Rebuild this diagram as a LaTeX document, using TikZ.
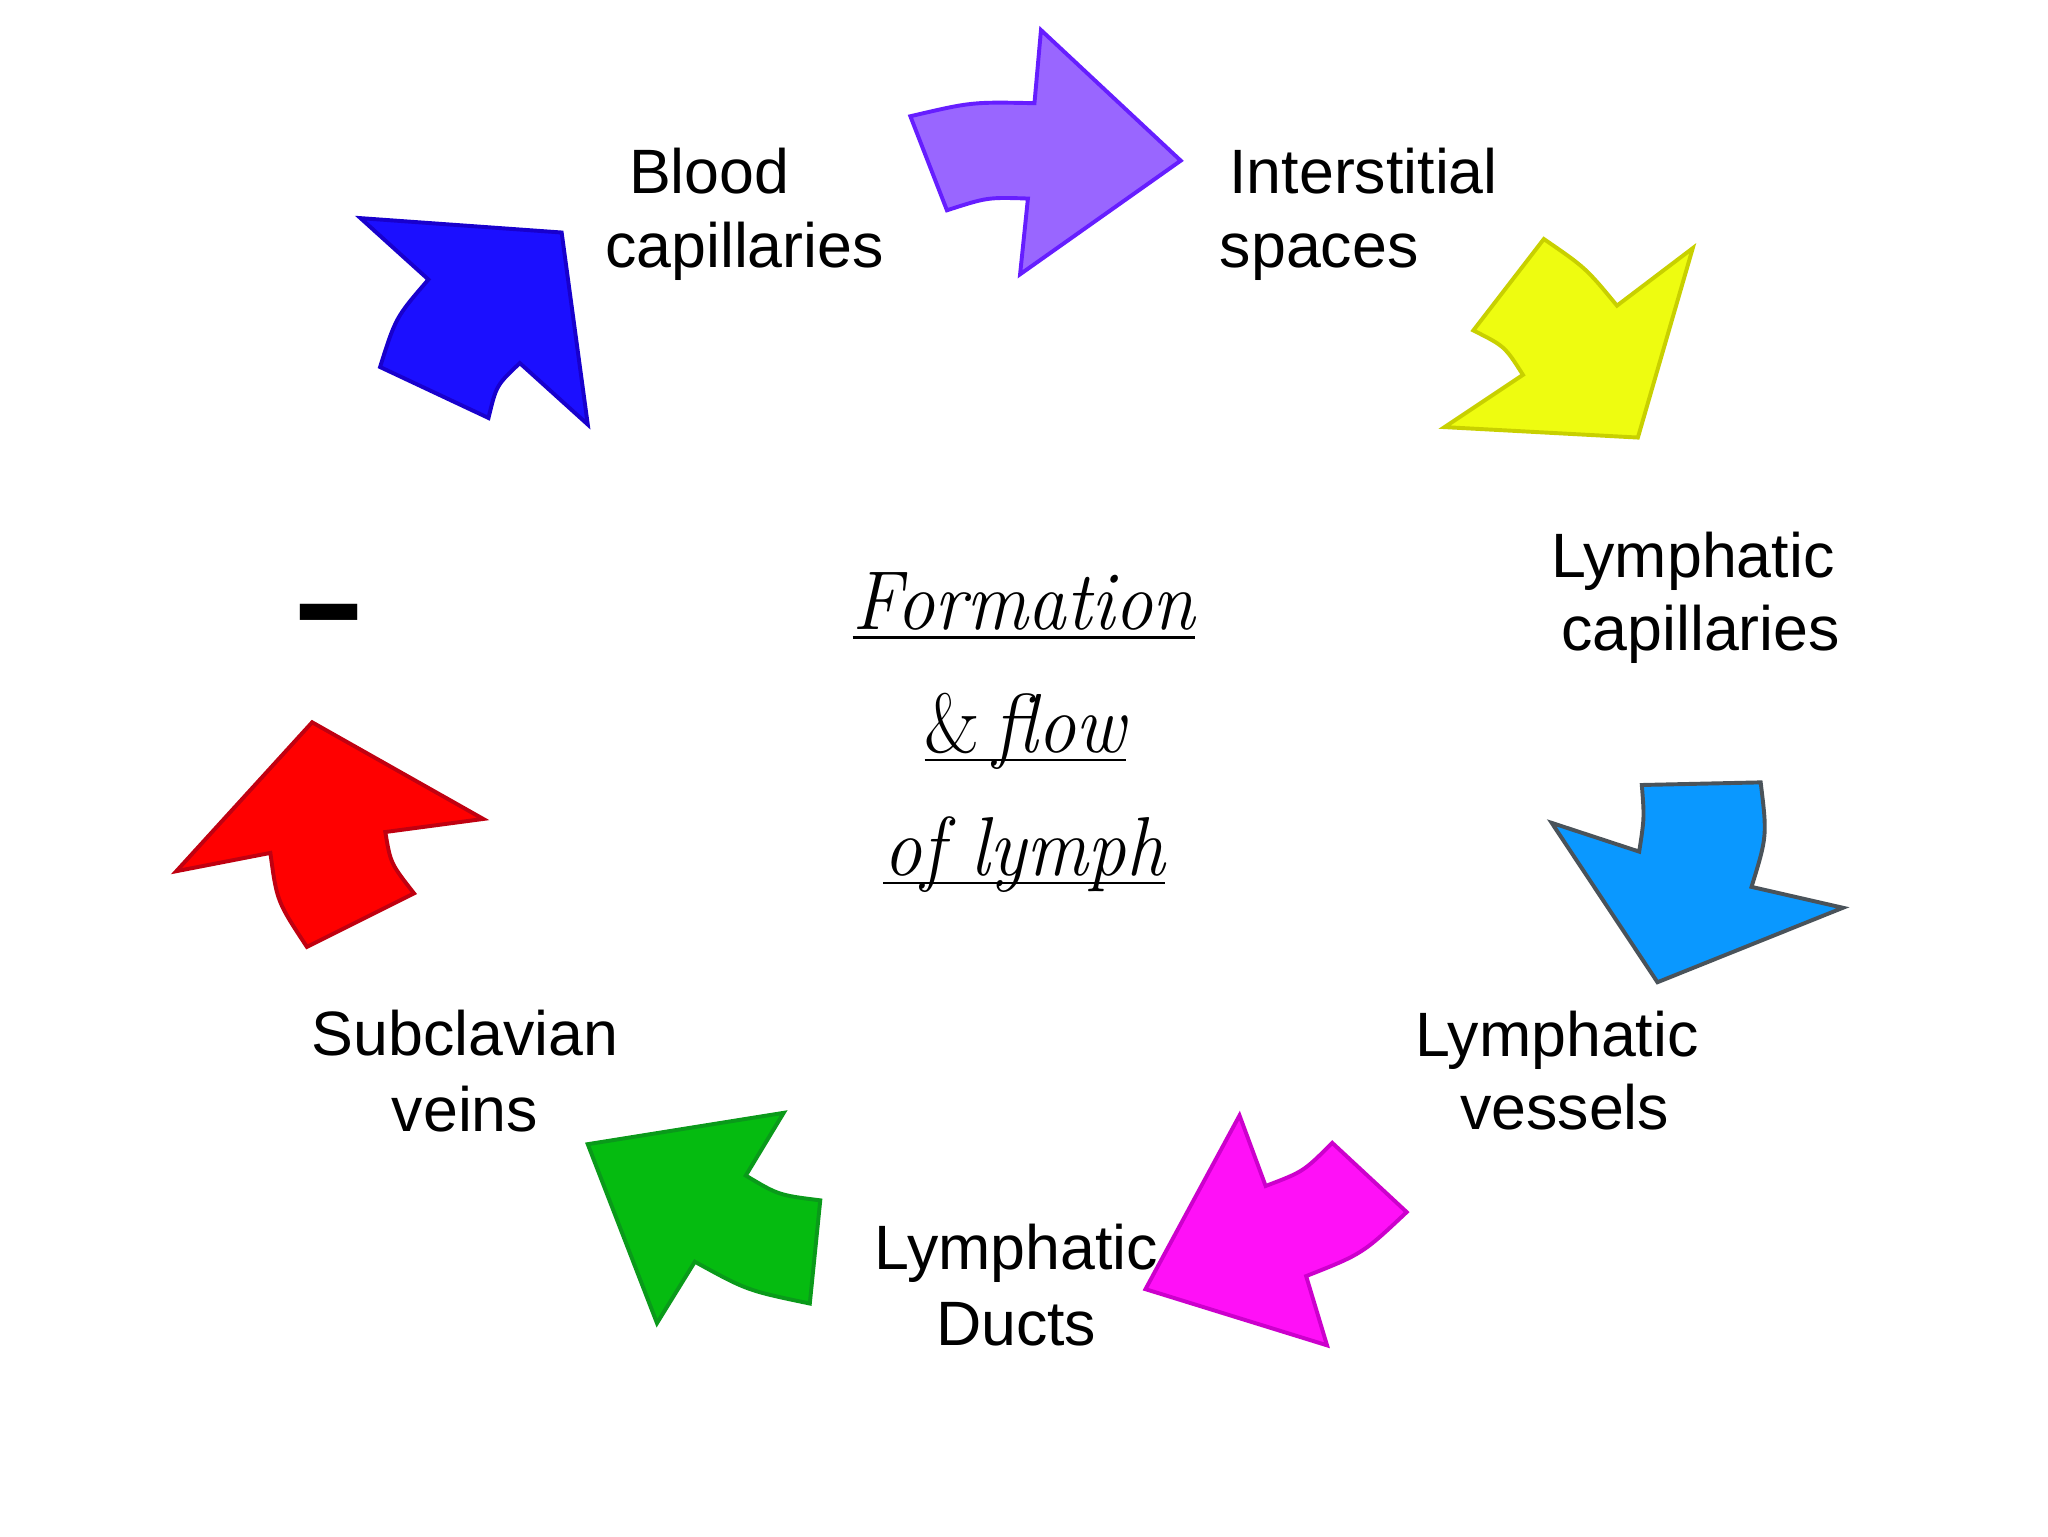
\documentclass[tikz,border=0pt]{standalone}
\usepackage{graphicx}
\usepackage{fontspec}
\newfontfamily\labfont{Liberation Sans}
\definecolor{bluefill}{RGB}{27,15,255}
\definecolor{bluedraw}{RGB}{24,0,205}
\definecolor{purplefill}{RGB}{153,102,255}
\definecolor{purpledraw}{RGB}{102,30,255}
\definecolor{yellowfill}{RGB}{238,252,16}
\definecolor{yellowdraw}{RGB}{200,208,0}
\definecolor{skyfill}{RGB}{10,152,255}
\definecolor{skydraw}{RGB}{74,83,90}
\definecolor{magfill}{RGB}{255,16,247}
\definecolor{magdraw}{RGB}{204,0,204}
\definecolor{greenfill}{RGB}{5,187,16}
\definecolor{greendraw}{RGB}{10,154,26}
\definecolor{redfill}{RGB}{255,0,0}
\definecolor{reddraw}{RGB}{192,0,16}
\begin{document}
\begin{tikzpicture}[x=1pt,y=-1pt,
  flowarrow/.style={line width=3pt, line join=miter},
  lbl/.style={font=\labfont\fontsize{48}{57}\selectfont, anchor=base, inner sep=0pt},
  ttl/.style={font=\fontsize{64}{75}\selectfont\itshape, anchor=base, inner sep=0pt},
  ul/.style={line width=2pt}]
\useasboundingbox[fill=white] (0,0) rectangle (1568,1176);

% arrows
\draw[flowarrow, fill=bluefill, draw=bluedraw]
  (276,167) -- (430,178) -- (450,325) -- (398,278) .. controls (380,295) .. (374,320)
  -- (291,281) .. controls (303,243) .. (328,214) -- cycle;
\draw[flowarrow, fill=purplefill, draw=purpledraw]
  (697,89) .. controls (744,78) .. (792,79) -- (797,23) -- (904,123) -- (781,210)
  -- (787,152) .. controls (756,151) .. (725,161) -- cycle;
\draw[flowarrow, fill=yellowfill, draw=yellowdraw]
  (1182,183) .. controls (1214,205) .. (1238,234) -- (1296,190) -- (1254,335)
  -- (1106,327) -- (1166,287) .. controls (1152,265) .. (1128,253) -- cycle;
\draw[flowarrow, fill=skyfill, draw=skydraw]
  (1255,652) .. controls (1259,626) .. (1257,601) -- (1348,599) .. controls (1353,640) .. (1341,679)
  -- (1411,695) -- (1269,752) -- (1188,630) -- cycle;
\draw[flowarrow, fill=magfill, draw=magdraw]
  (949,854) -- (969,908) .. controls (998,897) .. (1020,875) -- (1077,928)
  .. controls (1043,960) .. (1000,977) -- (1016,1030) -- (877,987) -- cycle;
\draw[flowarrow, fill=greenfill, draw=greendraw]
  (450,876) -- (600,852) -- (571,900) .. controls (596,915) .. (628,919) -- (620,998)
  .. controls (572,988) .. (532,966) -- (503,1013) -- cycle;
\draw[flowarrow, fill=redfill, draw=reddraw]
  (239,553) -- (370,627) -- (295,637) .. controls (299,661) .. (317,684) -- (235,725)
  .. controls (212,690) .. (207,653) -- (135,667) -- cycle;

% labels
\node[lbl] (bc1) at (543,148) {Blood};
\node[lbl] (bc2) at (570,205) {capillaries};
\node[lbl] (is1) at (1044,148) {Interstitial};
\node[lbl] (is2) at (1010,205) {spaces};
\node[lbl] (lc1) at (1296,442) {Lymphatic};
\node[lbl] (lc2) at (1302,498) {capillaries};
\node[lbl] (lv1) at (1192,809) {Lymphatic};
\node[lbl] (lv2) at (1198,865) {vessels};
\node[lbl] (ld1) at (778,972) {Lymphatic};
\node[lbl] (ld2) at (778,1030) {Ducts};
\node[lbl] (sv1) at (356,808) {Subclavian};
\node[lbl] (sv2) at (356,866) {veins};

\node[anchor=base west, inner sep=0pt, font=\labfont\bfseries\fontsize{173}{173}\selectfont]
  (dash) at (223,496) {\scalebox{1}[0.6]{-}};

% title
\node[ttl] (t1) at (784,482) {\scalebox{0.92}[1]{Formation}};
\node[ttl] (t2) at (785,576) {\scalebox{0.92}[1]{\textup{\&}\,flow}};
\node[ttl] (t3) at (784,670) {\scalebox{0.92}[1]{of\,\,lymph}};
\draw[ul] ([yshift=-6pt]t1.base west) -- ([yshift=-6pt]t1.base east);
\draw[ul] ([yshift=-6pt]t2.base west) -- ([yshift=-6pt]t2.base east);
\draw[ul] ([yshift=-6pt]t3.base west) -- ([yshift=-6pt]t3.base east);
\end{tikzpicture}
\end{document}
